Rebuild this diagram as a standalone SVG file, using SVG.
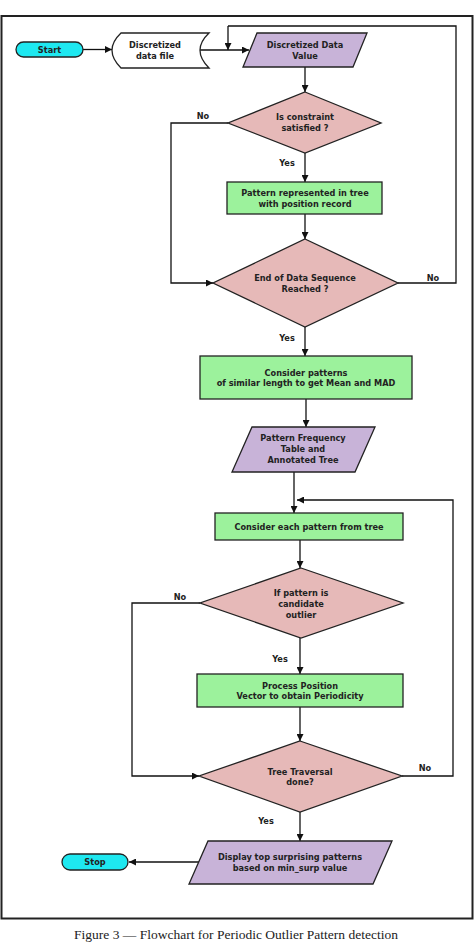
<svg xmlns="http://www.w3.org/2000/svg" width="474" height="945" viewBox="0 0 474 945">
<defs>
<marker id="ah" viewBox="0 0 10 10" refX="10" refY="5" markerWidth="7" markerHeight="7" markerUnits="userSpaceOnUse" orient="auto">
<path d="M0,0 L10,5 L0,10 z" fill="#111"/>
</marker>
<style>
.t{font-family:"DejaVu Sans",Verdana,sans-serif;font-weight:bold;font-size:8.2px;fill:#222;text-anchor:middle}
.l{font-family:"DejaVu Sans",Verdana,sans-serif;font-weight:bold;font-size:8.2px;fill:#222;text-anchor:middle}
.sh{stroke:#222;stroke-width:1.3}
.term{fill:#1ee8f0}
.dec{fill:#e6b9b8}
.proc{fill:#9cf29c}
.io{fill:#c8b3d8}
.c{fill:none;stroke:#111;stroke-width:1.3}
.ca{fill:none;stroke:#111;stroke-width:1.3;marker-end:url(#ah)}
</style>
</defs>
<rect x="0" y="0" width="474" height="945" fill="#fff"/>
<rect x="1.5" y="16" width="471" height="902.5" fill="none" stroke="#222" stroke-width="2"/>

<g id="connectors">
<path class="ca" d="M83,49.5 L112,49.5"/>
<path class="ca" d="M195,50 L249,50"/>
<path class="c" d="M398,283 L456,283 L456,26 L228,26"/>
<path class="ca" d="M228,26 L228,50"/>
<path class="ca" d="M305,67 L305,92"/>
<path class="ca" d="M228,123 L171,123 L171,283 L213,283"/>
<path class="ca" d="M305,153 L305,182"/>
<path class="ca" d="M305,214 L305,239"/>
<path class="ca" d="M305,327 L305,356"/>
<path class="ca" d="M306,399 L306,427"/>
<path class="ca" d="M294,472 L294,513"/>
<path class="ca" d="M402,776 L453,776 L453,500 L297,500"/>
<path class="ca" d="M300,540 L300,568"/>
<path class="ca" d="M200,603 L132,603 L132,776 L199,776"/>
<path class="ca" d="M300,638 L300,674"/>
<path class="ca" d="M300,707 L300,741"/>
<path class="ca" d="M300,812 L300,841"/>
<path class="ca" d="M199,862 L129,862"/>
<text class="l" x="203" y="119">No</text>
<text class="l" x="287" y="166">Yes</text>
<text class="l" x="433" y="281">No</text>
<text class="l" x="287" y="341">Yes</text>
<text class="l" x="180" y="600">No</text>
<text class="l" x="280" y="662">Yes</text>
<text class="l" x="425" y="771">No</text>
<text class="l" x="266" y="824">Yes</text>
</g>

<g id="start">
<rect class="sh term" x="16" y="42" width="67" height="15" rx="7.5"/>
<text class="t" x="49.5" y="52.5">Start</text>
</g>

<g id="datafile">
<path class="sh" fill="#fff" d="M121,33 L209,33 Q191,50 209,68 L121,68 Q103,50 121,33 z"/>
<text class="t" x="155" y="48">Discretized</text>
<text class="t" x="155" y="59">data file</text>
</g>

<g id="datavalue">
<polygon class="sh io" points="257,33 367,33 353,67 243,67"/>
<text class="t" x="305" y="48">Discretized Data</text>
<text class="t" x="305" y="59">Value</text>
</g>

<g id="constraint">
<polygon class="sh dec" points="305,92 381,123 305,153 228,123"/>
<text class="t" x="305" y="120">Is constraint</text>
<text class="t" x="305" y="131">satisfied ?</text>
</g>

<g id="represent">
<rect class="sh proc" x="227" y="182" width="155" height="32"/>
<text class="t" x="305" y="196">Pattern represented in tree</text>
<text class="t" x="305" y="207">with position record</text>
</g>

<g id="endseq">
<polygon class="sh dec" points="305,239 398,283 305,327 213,283"/>
<text class="t" x="305" y="281">End of Data Sequence</text>
<text class="t" x="305" y="292">Reached ?</text>
</g>

<g id="consider">
<rect class="sh proc" x="200" y="356" width="212" height="43"/>
<text class="t" x="306" y="376">Consider patterns</text>
<text class="t" x="306" y="386">of similar length to get Mean and MAD</text>
</g>

<g id="freqtable">
<polygon class="sh io" points="252,427 375,427 355,472 232,472"/>
<text class="t" x="303" y="441">Pattern Frequency</text>
<text class="t" x="303" y="452">Table and</text>
<text class="t" x="303" y="463">Annotated Tree</text>
</g>

<g id="each">
<rect class="sh proc" x="215" y="513" width="188" height="27"/>
<text class="t" x="309" y="530">Consider each pattern from tree</text>
</g>

<g id="candidate">
<polygon class="sh dec" points="301,568 403,603 301,638 200,603"/>
<text class="t" x="301" y="596">If pattern is</text>
<text class="t" x="301" y="607">candidate</text>
<text class="t" x="301" y="618">outlier</text>
</g>

<g id="process">
<rect class="sh proc" x="197" y="674" width="206" height="33"/>
<text class="t" x="300" y="689">Process Position</text>
<text class="t" x="300" y="699">Vector to obtain Periodicity</text>
</g>

<g id="traversal">
<polygon class="sh dec" points="300,741 402,776 300,812 199,776"/>
<text class="t" x="300" y="775">Tree Traversal</text>
<text class="t" x="300" y="785">done?</text>
</g>

<g id="display">
<polygon class="sh io" points="208,841 392,841 373,884 189,884"/>
<text class="t" x="290" y="860">Display top surprising patterns</text>
<text class="t" x="290" y="871">based on min_surp value</text>
</g>

<g id="stop">
<rect class="sh term" x="62" y="854" width="66" height="16" rx="8"/>
<text class="t" x="95" y="865">Stop</text>
</g>

<text x="236" y="939" font-family="Liberation Serif, serif" font-size="13.5" text-anchor="middle" fill="#222">Figure 3 — Flowchart for Periodic Outlier Pattern detection</text>
</svg>
